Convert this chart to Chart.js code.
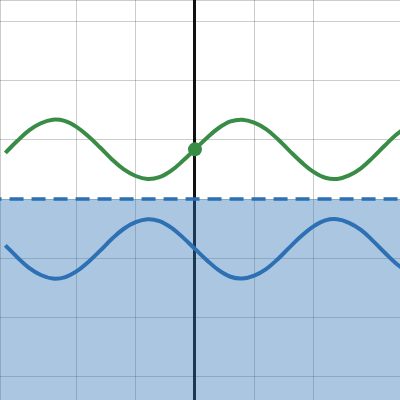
<!DOCTYPE html>
<html><head><meta charset="utf-8">
<script src="https://cdn.jsdelivr.net/npm/chart.js@4/dist/chart.umd.min.js"></script>
<style>html,body{margin:0;padding:0;background:#fff}canvas{display:block}</style>
</head><body><canvas id="c" width="400" height="400"></canvas>
<script>
const xs = [-3.2,-3.0,-2.8,-2.6,-2.4,-2.2,-2.0,-1.8,-1.6,-1.4,-1.2,-1.0,-0.8,-0.6,-0.4,-0.2,0,0.2,0.4,0.6,0.8,1.0,1.2,1.4,1.6,1.8,2.0,2.2,2.4,2.6,2.8,3.0,3.2,3.4,3.6];
const greenY = [0.78,0.98,1.16,1.28,1.34,1.32,1.22,1.06,0.87,0.67,0.50,0.39,0.34,0.37,0.48,0.65,0.84,1.03,1.20,1.31,1.34,1.29,1.18,1.01,0.81,0.62,0.46,0.36,0.34,0.40,0.52,0.70,0.90,1.09,1.24];
const blueY = [-0.78,-0.98,-1.16,-1.28,-1.34,-1.32,-1.22,-1.06,-0.87,-0.67,-0.50,-0.39,-0.34,-0.37,-0.48,-0.65,-0.84,-1.03,-1.20,-1.31,-1.34,-1.29,-1.18,-1.01,-0.81,-0.62,-0.46,-0.36,-0.34,-0.40,-0.52,-0.70,-0.90,-1.09,-1.24];
const boundaryX = [-3.5,3.7];
const boundaryY = [0,0];
const pointX = [0];
const pointY = [0.84];

const pts = (a,b)=>a.map((x,i)=>({x:x,y:b[i]}));
new Chart(document.getElementById('c'),{
  type:'scatter',
  data:{datasets:[
    {data:pts(pointX,pointY),showLine:false,pointRadius:7,pointBackgroundColor:'#388c46',pointBorderWidth:0,order:0},
    {data:pts(xs,greenY),showLine:true,borderColor:'#388c46',borderWidth:4,pointRadius:0,tension:0.4,fill:false,order:1},
    {data:pts(xs,blueY),showLine:true,borderColor:'#2d70b3',borderWidth:4,pointRadius:0,tension:0.4,fill:false,order:2},
    {data:pts(boundaryX,boundaryY),showLine:true,borderColor:'#2d70b3',borderWidth:3.5,borderDash:[14,8],pointRadius:0,fill:'start',backgroundColor:'rgba(45,112,179,0.4)',order:3}
  ]},
  options:{
    responsive:false,animation:false,
    layout:{padding:0,autoPadding:false},
    plugins:{legend:{display:false},tooltip:{enabled:false}},
    scales:{
      x:{type:'linear',min:-3.29,max:3.46,ticks:{display:false,stepSize:1,padding:0},border:{display:false},
         afterFit:s=>{s.height=0;s.paddingLeft=0;s.paddingRight=0;},
         grid:{drawTicks:false,tickLength:0,color:c=>c.tick&&c.tick.value===0?'#111':'rgba(0,0,0,0.2)',lineWidth:c=>c.tick&&c.tick.value===0?3:1}},
      y:{type:'linear',min:-3.39,max:3.36,ticks:{display:false,stepSize:1,padding:0},border:{display:false},
         afterFit:s=>{s.width=0;s.paddingTop=0;s.paddingBottom=0;},
         grid:{drawTicks:false,tickLength:0,color:'rgba(0,0,0,0.2)',lineWidth:1}}
    }
  }
});
</script></body></html>
